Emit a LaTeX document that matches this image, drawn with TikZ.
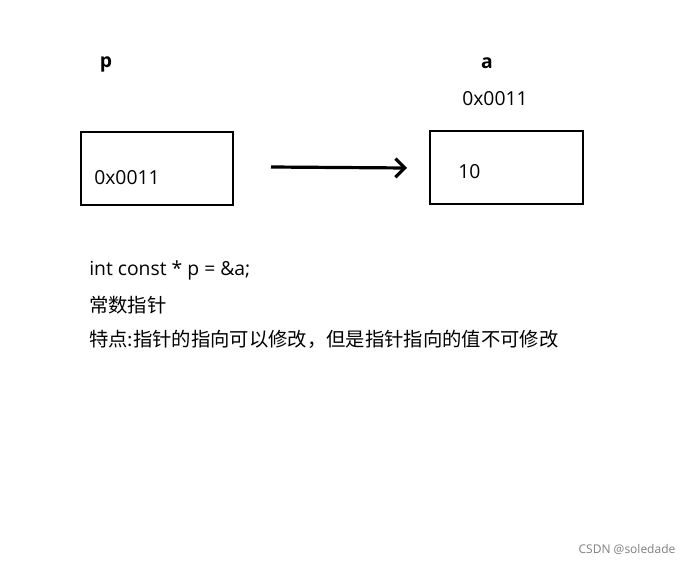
\documentclass[tikz,border=0pt]{standalone}
\usepackage{fontspec}
\setmainfont{Open Sans}
\newfontfamily\cjk{Noto Sans CJK SC}
\usetikzlibrary{arrows.meta}
\tikzset{box/.style={draw,line width=2.2pt},txt/.style={font=\fontsize{14.5}{17}\selectfont,inner sep=0pt}}
\begin{document}
\begin{tikzpicture}[x=0.75pt,y=-0.75pt]
\useasboundingbox[fill=white] (0,0) rectangle (696,564);
\draw[box] (81,132) rectangle (233,205);
\draw[box] (430,131) rectangle (583,204);
\coordinate (s) at (271,167);
\coordinate (e) at (407,168);
\draw[line width=2.4pt,-{Straight Barb[length=7pt,width=14pt]}] (s) -- (e);
\node[txt,font=\bfseries\fontsize{14.5}{17}\selectfont] (p) at (106,64) {p};
\node[txt,font=\bfseries\fontsize{14.5}{17}\selectfont] (a) at (487,63) {a};
\node[txt] (ad) at (495,99) {0x0011};
\node[txt,anchor=west] (pv) at (94,178) {0x0011};
\node[txt,anchor=west] (av) at (458,172) {10};
\node[txt,anchor=west] (l1) at (89,270) {int const * p = \&a;};
\node[txt,anchor=west] (l2) at (89,305) {\cjk 常数指针};
\node[txt,anchor=west] (l3) at (89,339) {\cjk 特点:指针的指向可以修改，但是指针指向的值不可修改};
\node[inner sep=0pt,text=gray,font=\fontsize{9}{10}\selectfont] (w) at (627,549) {CSDN @soledade};
\end{tikzpicture}
\end{document}
